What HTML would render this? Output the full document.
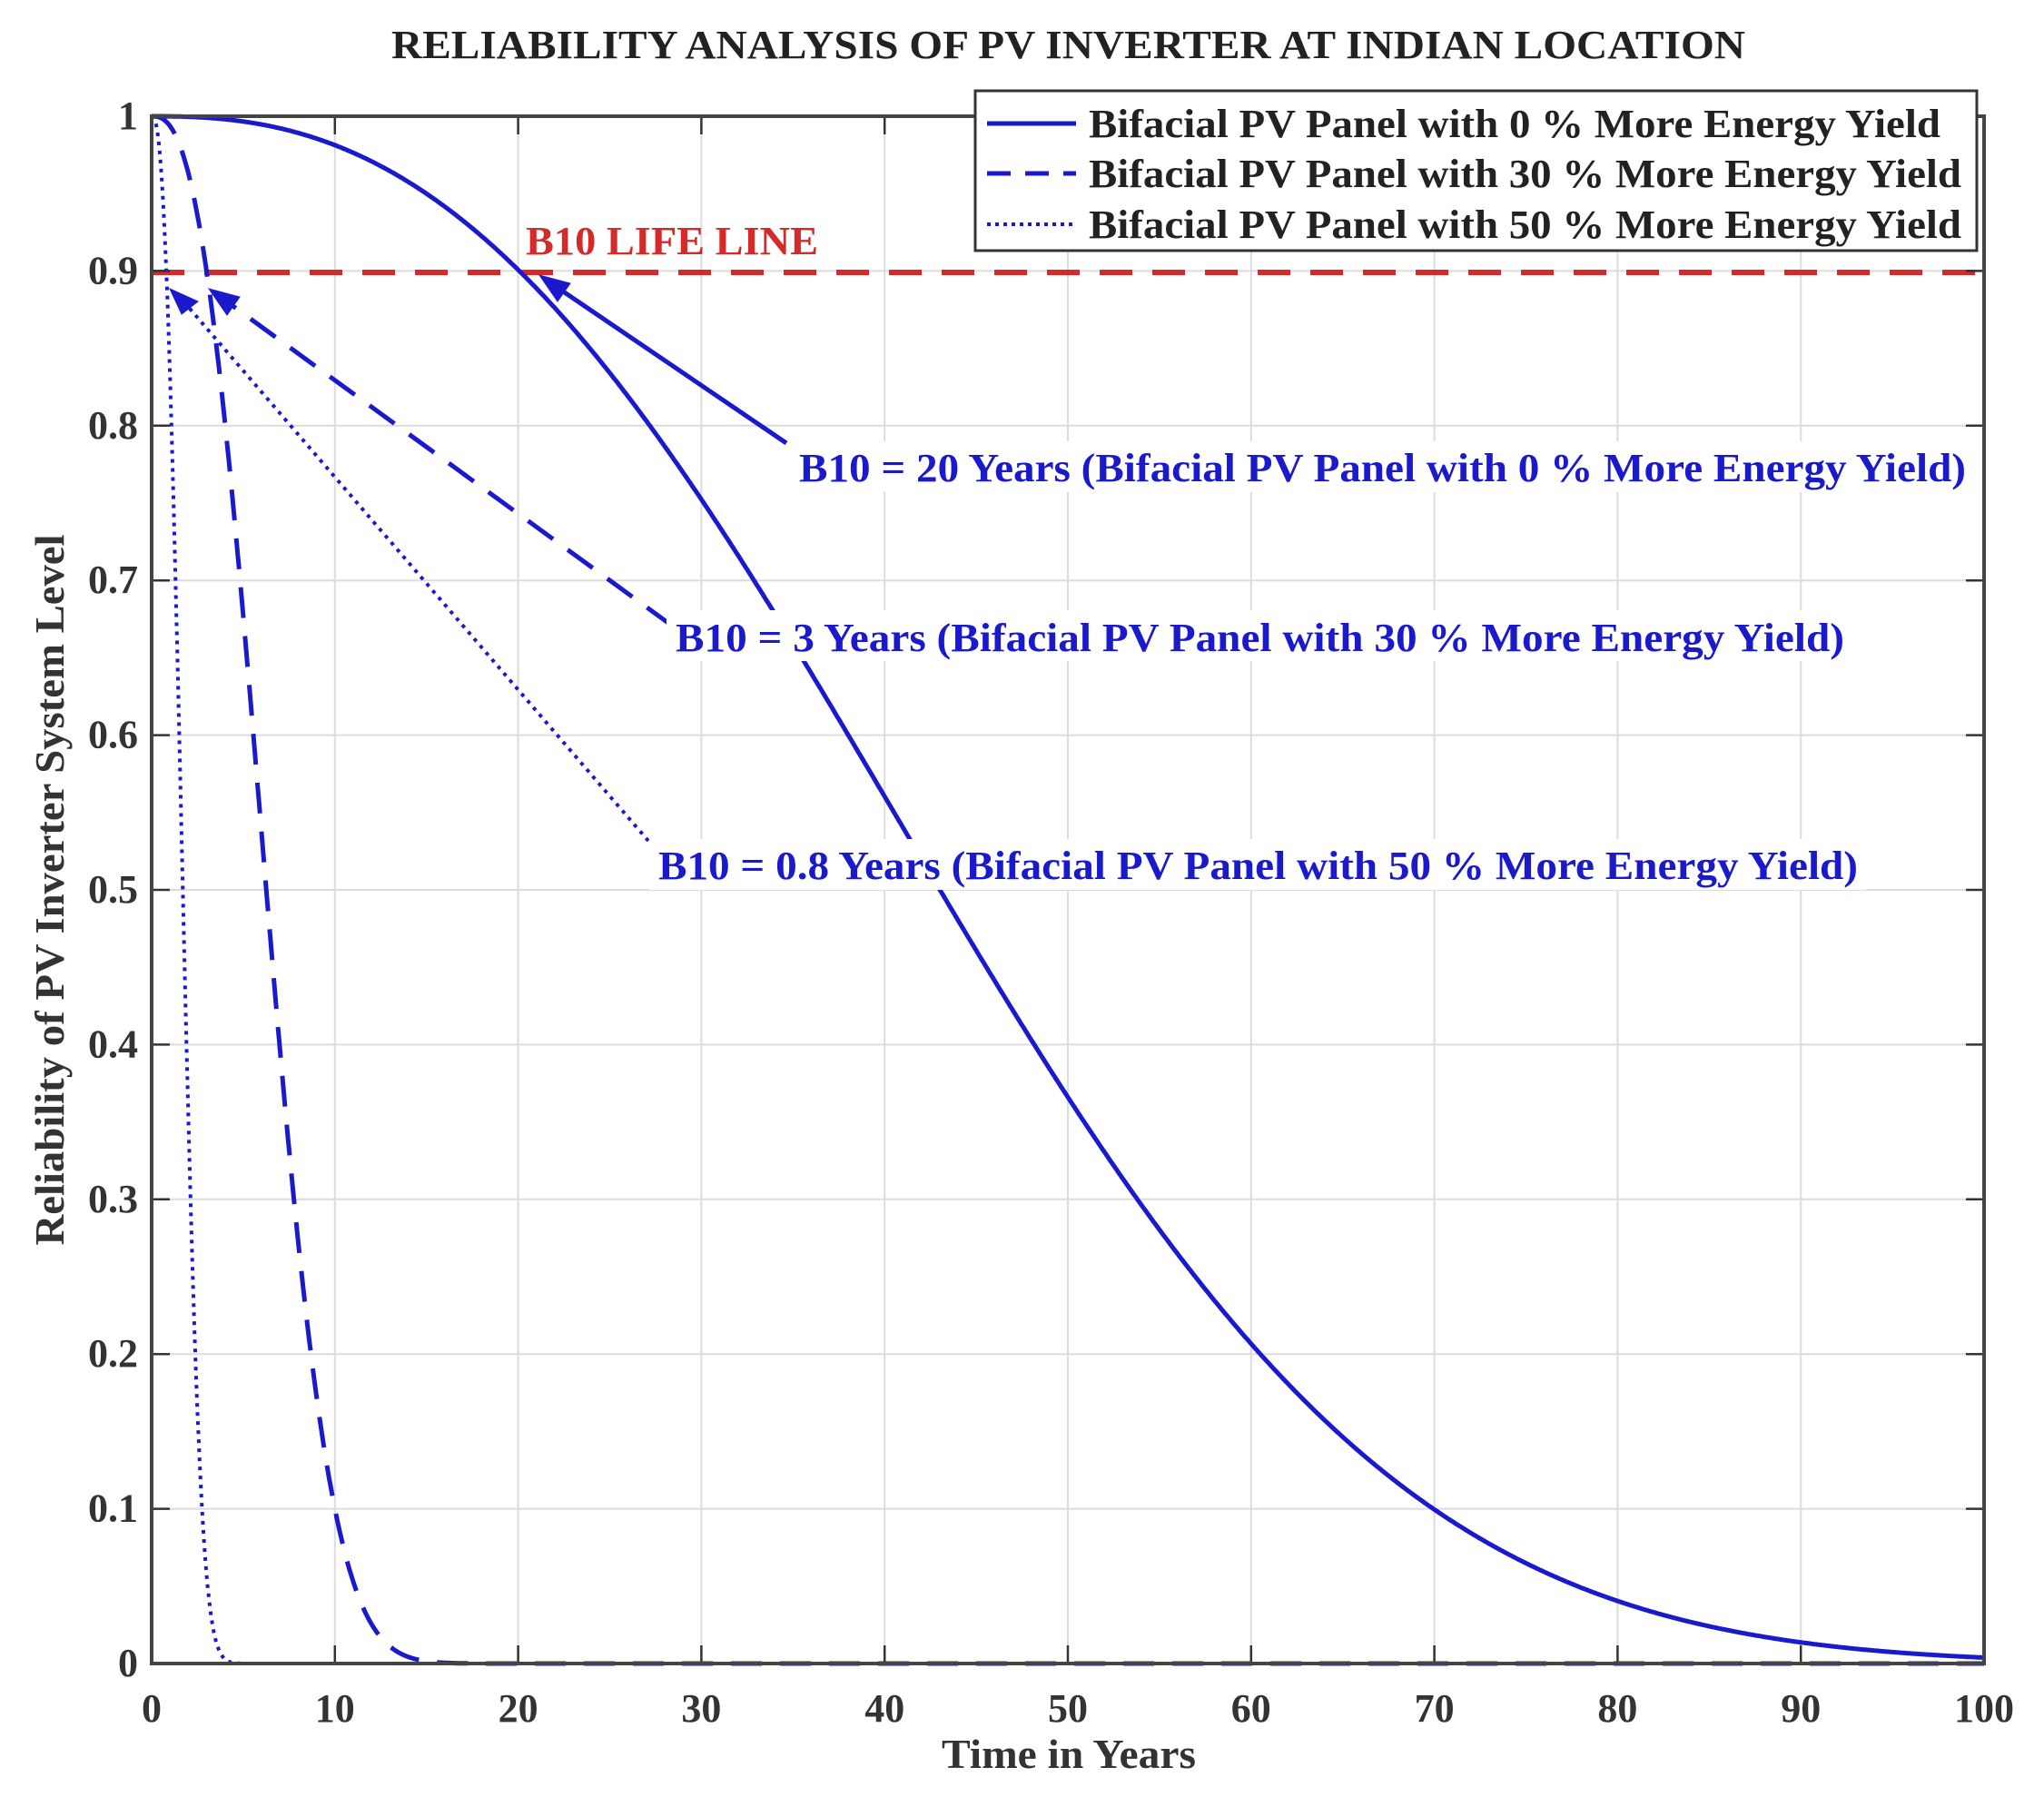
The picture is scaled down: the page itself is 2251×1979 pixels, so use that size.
<!DOCTYPE html>
<html><head><meta charset="utf-8"><style>
html,body{margin:0;padding:0;background:#fff;}
svg{display:block;}
text{font-family:"Liberation Serif",serif;font-weight:bold;}
</style></head><body>
<svg id="s" width="2251" height="1979" viewBox="0 0 2251 1979" xmlns="http://www.w3.org/2000/svg">
<rect width="2251" height="1979" fill="#fff"/>
<g id="grid" stroke="#dcdcdc" stroke-width="2"></g>
<text x="431" y="64" font-size="44" textLength="1491" lengthAdjust="spacingAndGlyphs" fill="#222">RELIABILITY ANALYSIS OF PV INVERTER AT INDIAN LOCATION</text>
<line x1="167" y1="300" x2="2185" y2="300" stroke="#d42a2a" stroke-width="6" stroke-dasharray="36,22"/>
<g id="curves" fill="none" stroke="#1a1acc"></g>
<g id="ticks" stroke="#333" stroke-width="2.5"></g>
<rect x="167" y="128" width="2018" height="1704" fill="none" stroke="#444" stroke-width="4"/>
<g id="labels" font-size="44" fill="#333"></g>
<text x="1037" y="1947" font-size="46" textLength="280" lengthAdjust="spacingAndGlyphs" fill="#333">Time in Years</text>
<text transform="translate(70,980) rotate(-90)" font-size="46" text-anchor="middle" textLength="783" lengthAdjust="spacingAndGlyphs" fill="#333">Reliability of PV Inverter System Level</text>
<text x="579" y="280" font-size="44" textLength="322" lengthAdjust="spacingAndGlyphs" fill="#d42a2a">B10 LIFE LINE</text>
<g stroke="#1a1acc" fill="#1a1acc">
<line x1="866" y1="488" x2="604" y2="310" stroke-width="5"/>
<polygon points="594,303 628,312 614,332"/>
<line x1="740" y1="689" x2="240" y2="325" stroke-width="5" stroke-dasharray="34,20"/>
<polygon points="230,318 264,327 250,347"/>
<line x1="714" y1="926" x2="197" y2="326" stroke-width="4" stroke-dasharray="4,6"/>
<polygon points="187,318 218,332 200,346"/>
</g>
<g font-size="44" fill="#1a1acc">
<rect x="870" y="486" width="1305" height="56" fill="#fff"/>
<text x="880" y="530" textLength="1285" lengthAdjust="spacingAndGlyphs">B10 = 20 Years (Bifacial PV Panel with 0 % More Energy Yield)</text>
<rect x="734" y="672" width="1302" height="56" fill="#fff"/>
<text x="744" y="717" textLength="1287" lengthAdjust="spacingAndGlyphs">B10 = 3 Years (Bifacial PV Panel with 30 % More Energy Yield)</text>
<rect x="715" y="924" width="1340" height="56" fill="#fff"/>
<text x="725" y="968" textLength="1321" lengthAdjust="spacingAndGlyphs">B10 = 0.8 Years (Bifacial PV Panel with 50 % More Energy Yield)</text>
</g>
<rect x="1074" y="100" width="1103" height="176" fill="#fff" stroke="#333" stroke-width="3"/>
<g stroke="#1a1acc">
<line x1="1087" y1="136" x2="1185" y2="136" stroke-width="5"/>
<line x1="1087" y1="191" x2="1185" y2="191" stroke-width="5" stroke-dasharray="26,16"/>
<line x1="1087" y1="247" x2="1185" y2="247" stroke-width="4" stroke-dasharray="4,5"/>
</g>
<g font-size="44" fill="#222">
<text x="1199" y="151" textLength="938" lengthAdjust="spacingAndGlyphs">Bifacial PV Panel with 0 % More Energy Yield</text>
<text x="1199" y="206" textLength="961" lengthAdjust="spacingAndGlyphs">Bifacial PV Panel with 30 % More Energy Yield</text>
<text x="1199" y="262" textLength="961" lengthAdjust="spacingAndGlyphs">Bifacial PV Panel with 50 % More Energy Yield</text>
</g>
</svg>
<script>
var NS="http://www.w3.org/2000/svg";
function X(t){return 167+t*20.18;}function Y(r){return 1832-r*1704;}
function el(p,n,a){var e=document.createElementNS(NS,n);for(var k in a)e.setAttribute(k,a[k]);document.getElementById(p).appendChild(e);return e;}
for(var i=1;i<10;i++){el("grid","line",{x1:X(i*10),x2:X(i*10),y1:128,y2:1832});el("grid","line",{x1:167,x2:2185,y1:Y(i/10),y2:Y(i/10)});
el("ticks","line",{x1:X(i*10),x2:X(i*10),y1:1832,y2:1812});el("ticks","line",{x1:X(i*10),x2:X(i*10),y1:128,y2:148});
el("ticks","line",{x1:167,x2:187,y1:Y(i/10),y2:Y(i/10)});el("ticks","line",{x1:2185,x2:2165,y1:Y(i/10),y2:Y(i/10)});}
for(var i=0;i<=10;i++){var t=el("labels","text",{x:X(i*10),y:1896,"text-anchor":"middle"});t.textContent=String(i*10);
var v=i/10;var t2=el("labels","text",{x:152,y:Y(v)+14,"text-anchor":"end"});t2.textContent=(i==0?"0":i==10?"1":v.toFixed(1));}
function curve(eta,beta,w,dash){var d="";for(var k=0;k<=2000;k++){var t=k*0.05;var r=Math.exp(-Math.pow(t/eta,beta));d+=(k?"L":"M")+X(t).toFixed(1)+","+Y(r).toFixed(1);}
var a={d:d,"stroke-width":w};if(dash)a["stroke-dasharray"]=dash;el("curves","path",a);}
curve(49.9,2.47,5,null);curve(7.22,2.56,5,"34,20");curve(1.97,2.5,4,"4,6");
</script>
</body></html>
